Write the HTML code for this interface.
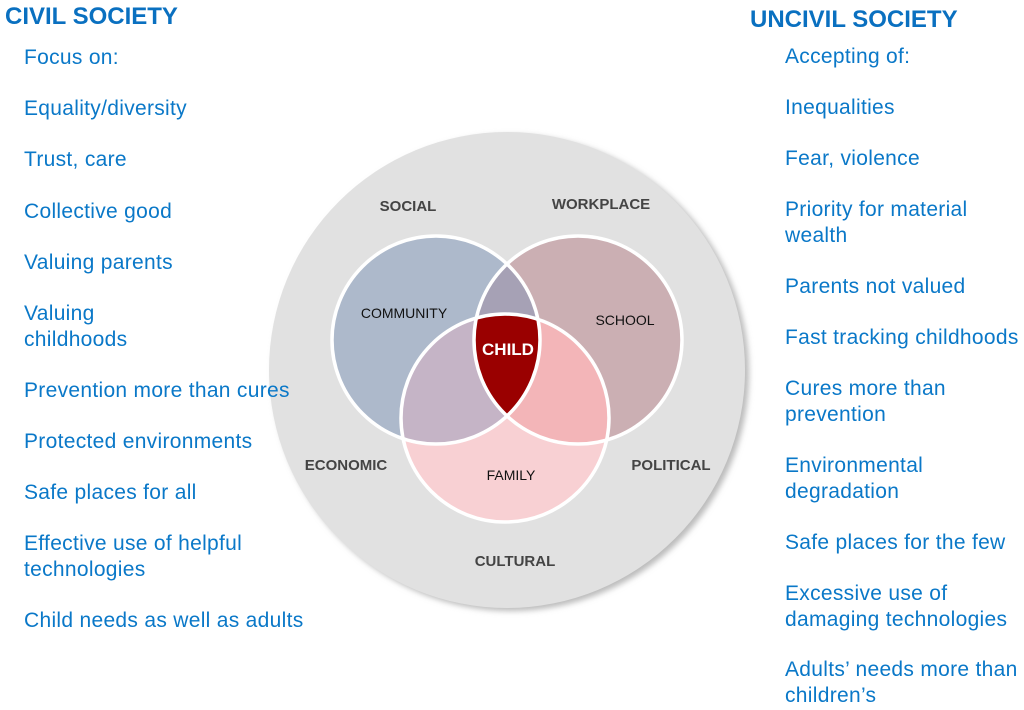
<!DOCTYPE html>
<html><head><meta charset="utf-8"><style>
body{margin:0;width:1024px;height:710px;background:#fff;position:relative;overflow:hidden;font-family:"Liberation Sans",sans-serif;}
.t{position:absolute;color:#0a78c8;font-size:21px;letter-spacing:0.3px;line-height:26px;white-space:nowrap;}
.h{position:absolute;color:#0a70c0;font-size:24px;font-weight:bold;white-space:nowrap;}
svg{position:absolute;left:0;top:0;}
</style></head><body>
<svg width="1024" height="710" viewBox="0 0 1024 710">
<defs>
<clipPath id="cc"><circle cx="436" cy="340" r="104"/></clipPath>
<clipPath id="cs"><circle cx="578" cy="340" r="104"/></clipPath>
<clipPath id="cf"><circle cx="505" cy="418" r="104"/></clipPath>
<filter id="sh"><feGaussianBlur stdDeviation="3"/></filter>
</defs>
<circle cx="511" cy="373" r="238" fill="#bbb" filter="url(#sh)"/>
<circle cx="507" cy="370" r="238" fill="#e1e1e1"/>
<circle cx="436" cy="340" r="104" fill="#adb9cb"/>
<circle cx="578" cy="340" r="104" fill="#cbafb3"/>
<circle cx="505" cy="418" r="104" fill="#f8d0d3"/>
<g clip-path="url(#cc)"><circle cx="578" cy="340" r="104" fill="#a6a1b5"/><circle cx="505" cy="418" r="104" fill="#c5b4c6"/></g>
<g clip-path="url(#cs)"><circle cx="505" cy="418" r="104" fill="#f3b5b8"/></g>
<g clip-path="url(#cc)"><g clip-path="url(#cs)"><circle cx="505" cy="418" r="104" fill="#9a0000"/></g></g>
<g fill="none" stroke="#fff" stroke-width="3.5">
<circle cx="436" cy="340" r="104"/><circle cx="578" cy="340" r="104"/><circle cx="505" cy="418" r="104"/>
</g>
<g font-family="Liberation Sans,sans-serif" font-weight="bold" font-size="15" fill="#444" text-anchor="middle">
<text x="408" y="211">SOCIAL</text>
<text x="601" y="209">WORKPLACE</text>
<text x="346" y="470">ECONOMIC</text>
<text x="671" y="470">POLITICAL</text>
<text x="515" y="566">CULTURAL</text>
</g>
<g font-family="Liberation Sans,sans-serif" font-size="14" fill="#111" text-anchor="middle">
<text x="404" y="318">COMMUNITY</text>
<text x="625" y="325">SCHOOL</text>
<text x="511" y="480">FAMILY</text>
</g>
<text x="508" y="355" text-anchor="middle" font-family="Liberation Sans,sans-serif" font-weight="bold" font-size="17" fill="#fff">CHILD</text>
</svg>
<div class="h" style="left:5px;top:3px">CIVIL SOCIETY</div>
<div class="h" style="left:750px;top:6px">UNCIVIL SOCIETY</div>
<div class="t" style="left:24px;top:45px">Focus on:</div>
<div class="t" style="left:24px;top:96px">Equality/diversity</div>
<div class="t" style="left:24px;top:147px">Trust, care</div>
<div class="t" style="left:24px;top:199px">Collective good</div>
<div class="t" style="left:24px;top:250px">Valuing parents</div>
<div class="t" style="left:24px;top:301px">Valuing<br>childhoods</div>
<div class="t" style="left:24px;top:378px">Prevention more than cures</div>
<div class="t" style="left:24px;top:429px">Protected environments</div>
<div class="t" style="left:24px;top:480px">Safe places for all</div>
<div class="t" style="left:24px;top:531px">Effective use of helpful<br>technologies</div>
<div class="t" style="left:24px;top:608px">Child needs as well as adults</div>
<div class="t" style="left:785px;top:44px">Accepting of:</div>
<div class="t" style="left:785px;top:95px">Inequalities</div>
<div class="t" style="left:785px;top:146px">Fear, violence</div>
<div class="t" style="left:785px;top:197px">Priority for material<br>wealth</div>
<div class="t" style="left:785px;top:274px">Parents not valued</div>
<div class="t" style="left:785px;top:325px">Fast tracking childhoods</div>
<div class="t" style="left:785px;top:376px">Cures more than<br>prevention</div>
<div class="t" style="left:785px;top:453px">Environmental<br>degradation</div>
<div class="t" style="left:785px;top:530px">Safe places for the few</div>
<div class="t" style="left:785px;top:581px">Excessive use of<br>damaging technologies</div>
<div class="t" style="left:785px;top:657px">Adults’ needs more than<br>children’s</div>
</body></html>
